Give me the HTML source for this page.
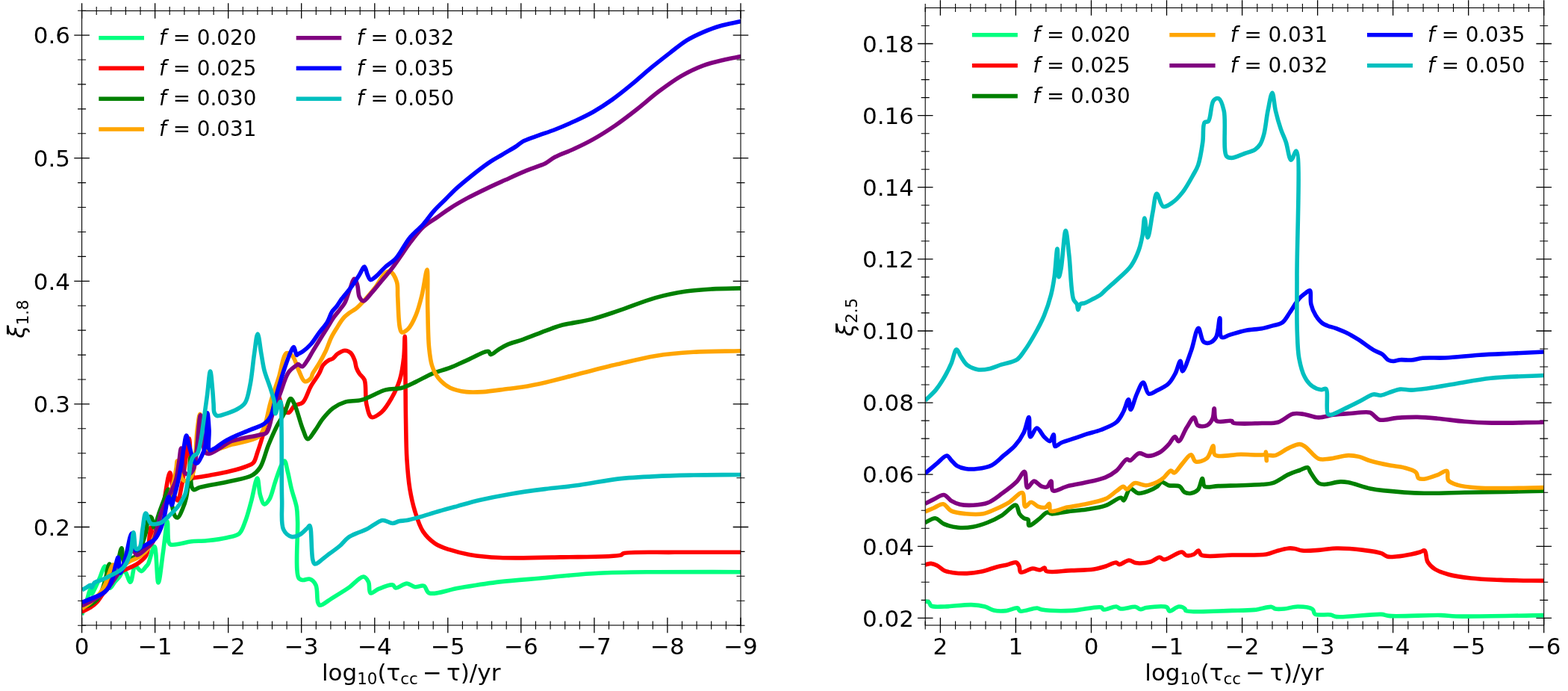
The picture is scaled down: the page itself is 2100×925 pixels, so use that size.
<!DOCTYPE html>
<html><head><meta charset="utf-8"><title>xi compactness plot</title>
<style>html,body{margin:0;padding:0;background:#fff;}svg{display:block;}</style>
</head><body>
<svg width="2100" height="925" viewBox="0 0 2100 925">
<defs><clipPath id="cl"><rect x="109.6" y="14.5" width="882.4" height="822.5"/></clipPath>
<clipPath id="cr"><rect x="1239.2" y="10.5" width="828.5" height="826.5"/></clipPath></defs>
<rect width="2100" height="925" fill="#fff"/>
<path d="M109.6 826.7L109.6 847.3M109.6 4.2L109.6 24.8M207.6 826.7L207.6 847.3M207.6 4.2L207.6 24.8M305.7 826.7L305.7 847.3M305.7 4.2L305.7 24.8M403.7 826.7L403.7 847.3M403.7 4.2L403.7 24.8M501.8 826.7L501.8 847.3M501.8 4.2L501.8 24.8M599.8 826.7L599.8 847.3M599.8 4.2L599.8 24.8M697.8 826.7L697.8 847.3M697.8 4.2L697.8 24.8M795.9 826.7L795.9 847.3M795.9 4.2L795.9 24.8M893.9 826.7L893.9 847.3M893.9 4.2L893.9 24.8M992 826.7L992 847.3M992 4.2L992 24.8M99.3 705.5L119.9 705.5M981.7 705.5L1002.3 705.5M99.3 540.9L119.9 540.9M981.7 540.9L1002.3 540.9M99.3 376.3L119.9 376.3M981.7 376.3L1002.3 376.3M99.3 211.7L119.9 211.7M981.7 211.7L1002.3 211.7M99.3 47.1L119.9 47.1M981.7 47.1L1002.3 47.1" stroke="#000" stroke-width="1.3" fill="none"/>
<path d="M129.2 831.5L129.2 842.5M129.2 9L129.2 20M148.8 831.5L148.8 842.5M148.8 9L148.8 20M168.4 831.5L168.4 842.5M168.4 9L168.4 20M188 831.5L188 842.5M188 9L188 20M227.2 831.5L227.2 842.5M227.2 9L227.2 20M246.9 831.5L246.9 842.5M246.9 9L246.9 20M266.5 831.5L266.5 842.5M266.5 9L266.5 20M286.1 831.5L286.1 842.5M286.1 9L286.1 20M325.3 831.5L325.3 842.5M325.3 9L325.3 20M344.9 831.5L344.9 842.5M344.9 9L344.9 20M364.5 831.5L364.5 842.5M364.5 9L364.5 20M384.1 831.5L384.1 842.5M384.1 9L384.1 20M423.3 831.5L423.3 842.5M423.3 9L423.3 20M442.9 831.5L442.9 842.5M442.9 9L442.9 20M462.5 831.5L462.5 842.5M462.5 9L462.5 20M482.2 831.5L482.2 842.5M482.2 9L482.2 20M521.4 831.5L521.4 842.5M521.4 9L521.4 20M541 831.5L541 842.5M541 9L541 20M560.6 831.5L560.6 842.5M560.6 9L560.6 20M580.2 831.5L580.2 842.5M580.2 9L580.2 20M619.4 831.5L619.4 842.5M619.4 9L619.4 20M639 831.5L639 842.5M639 9L639 20M658.6 831.5L658.6 842.5M658.6 9L658.6 20M678.2 831.5L678.2 842.5M678.2 9L678.2 20M717.4 831.5L717.4 842.5M717.4 9L717.4 20M737.1 831.5L737.1 842.5M737.1 9L737.1 20M756.7 831.5L756.7 842.5M756.7 9L756.7 20M776.3 831.5L776.3 842.5M776.3 9L776.3 20M815.5 831.5L815.5 842.5M815.5 9L815.5 20M835.1 831.5L835.1 842.5M835.1 9L835.1 20M854.7 831.5L854.7 842.5M854.7 9L854.7 20M874.3 831.5L874.3 842.5M874.3 9L874.3 20M913.5 831.5L913.5 842.5M913.5 9L913.5 20M933.1 831.5L933.1 842.5M933.1 9L933.1 20M952.7 831.5L952.7 842.5M952.7 9L952.7 20M972.4 831.5L972.4 842.5M972.4 9L972.4 20M104.1 837.2L115.1 837.2M986.5 837.2L997.5 837.2M104.1 804.3L115.1 804.3M986.5 804.3L997.5 804.3M104.1 771.3L115.1 771.3M986.5 771.3L997.5 771.3M104.1 738.4L115.1 738.4M986.5 738.4L997.5 738.4M104.1 672.6L115.1 672.6M986.5 672.6L997.5 672.6M104.1 639.7L115.1 639.7M986.5 639.7L997.5 639.7M104.1 606.7L115.1 606.7M986.5 606.7L997.5 606.7M104.1 573.8L115.1 573.8M986.5 573.8L997.5 573.8M104.1 508L115.1 508M986.5 508L997.5 508M104.1 475.1L115.1 475.1M986.5 475.1L997.5 475.1M104.1 442.1L115.1 442.1M986.5 442.1L997.5 442.1M104.1 409.2L115.1 409.2M986.5 409.2L997.5 409.2M104.1 343.4L115.1 343.4M986.5 343.4L997.5 343.4M104.1 310.5L115.1 310.5M986.5 310.5L997.5 310.5M104.1 277.5L115.1 277.5M986.5 277.5L997.5 277.5M104.1 244.6L115.1 244.6M986.5 244.6L997.5 244.6M104.1 178.8L115.1 178.8M986.5 178.8L997.5 178.8M104.1 145.9L115.1 145.9M986.5 145.9L997.5 145.9M104.1 112.9L115.1 112.9M986.5 112.9L997.5 112.9M104.1 80L115.1 80M986.5 80L997.5 80M104.1 14.2L115.1 14.2M986.5 14.2L997.5 14.2" stroke="#000" stroke-width="1.1" fill="none"/>
<path d="M1259.4 826.7L1259.4 847.3M1259.4 0.2L1259.4 20.8M1360.4 826.7L1360.4 847.3M1360.4 0.2L1360.4 20.8M1461.5 826.7L1461.5 847.3M1461.5 0.2L1461.5 20.8M1562.5 826.7L1562.5 847.3M1562.5 0.2L1562.5 20.8M1663.6 826.7L1663.6 847.3M1663.6 0.2L1663.6 20.8M1764.6 826.7L1764.6 847.3M1764.6 0.2L1764.6 20.8M1865.6 826.7L1865.6 847.3M1865.6 0.2L1865.6 20.8M1966.7 826.7L1966.7 847.3M1966.7 0.2L1966.7 20.8M2067.7 826.7L2067.7 847.3M2067.7 0.2L2067.7 20.8M1228.9 827.4L1249.5 827.4M2057.4 827.4L2078 827.4M1228.9 731.3L1249.5 731.3M2057.4 731.3L2078 731.3M1228.9 635.2L1249.5 635.2M2057.4 635.2L2078 635.2M1228.9 539.1L1249.5 539.1M2057.4 539.1L2078 539.1M1228.9 443L1249.5 443M2057.4 443L2078 443M1228.9 346.9L1249.5 346.9M2057.4 346.9L2078 346.9M1228.9 250.7L1249.5 250.7M2057.4 250.7L2078 250.7M1228.9 154.6L1249.5 154.6M2057.4 154.6L2078 154.6M1228.9 58.5L1249.5 58.5M2057.4 58.5L2078 58.5" stroke="#000" stroke-width="1.3" fill="none"/>
<path d="M1239.2 831.5L1239.2 842.5M1239.2 5L1239.2 16M1279.6 831.5L1279.6 842.5M1279.6 5L1279.6 16M1299.8 831.5L1299.8 842.5M1299.8 5L1299.8 16M1320 831.5L1320 842.5M1320 5L1320 16M1340.2 831.5L1340.2 842.5M1340.2 5L1340.2 16M1380.6 831.5L1380.6 842.5M1380.6 5L1380.6 16M1400.9 831.5L1400.9 842.5M1400.9 5L1400.9 16M1421.1 831.5L1421.1 842.5M1421.1 5L1421.1 16M1441.3 831.5L1441.3 842.5M1441.3 5L1441.3 16M1481.7 831.5L1481.7 842.5M1481.7 5L1481.7 16M1501.9 831.5L1501.9 842.5M1501.9 5L1501.9 16M1522.1 831.5L1522.1 842.5M1522.1 5L1522.1 16M1542.3 831.5L1542.3 842.5M1542.3 5L1542.3 16M1582.7 831.5L1582.7 842.5M1582.7 5L1582.7 16M1602.9 831.5L1602.9 842.5M1602.9 5L1602.9 16M1623.1 831.5L1623.1 842.5M1623.1 5L1623.1 16M1643.4 831.5L1643.4 842.5M1643.4 5L1643.4 16M1683.8 831.5L1683.8 842.5M1683.8 5L1683.8 16M1704 831.5L1704 842.5M1704 5L1704 16M1724.2 831.5L1724.2 842.5M1724.2 5L1724.2 16M1744.4 831.5L1744.4 842.5M1744.4 5L1744.4 16M1784.8 831.5L1784.8 842.5M1784.8 5L1784.8 16M1805 831.5L1805 842.5M1805 5L1805 16M1825.2 831.5L1825.2 842.5M1825.2 5L1825.2 16M1845.4 831.5L1845.4 842.5M1845.4 5L1845.4 16M1885.8 831.5L1885.8 842.5M1885.8 5L1885.8 16M1906.1 831.5L1906.1 842.5M1906.1 5L1906.1 16M1926.3 831.5L1926.3 842.5M1926.3 5L1926.3 16M1946.5 831.5L1946.5 842.5M1946.5 5L1946.5 16M1986.9 831.5L1986.9 842.5M1986.9 5L1986.9 16M2007.1 831.5L2007.1 842.5M2007.1 5L2007.1 16M2027.3 831.5L2027.3 842.5M2027.3 5L2027.3 16M2047.5 831.5L2047.5 842.5M2047.5 5L2047.5 16M1233.7 803.4L1244.7 803.4M2062.2 803.4L2073.2 803.4M1233.7 779.3L1244.7 779.3M2062.2 779.3L2073.2 779.3M1233.7 755.3L1244.7 755.3M2062.2 755.3L2073.2 755.3M1233.7 707.3L1244.7 707.3M2062.2 707.3L2073.2 707.3M1233.7 683.2L1244.7 683.2M2062.2 683.2L2073.2 683.2M1233.7 659.2L1244.7 659.2M2062.2 659.2L2073.2 659.2M1233.7 611.2L1244.7 611.2M2062.2 611.2L2073.2 611.2M1233.7 587.1L1244.7 587.1M2062.2 587.1L2073.2 587.1M1233.7 563.1L1244.7 563.1M2062.2 563.1L2073.2 563.1M1233.7 515L1244.7 515M2062.2 515L2073.2 515M1233.7 491L1244.7 491M2062.2 491L2073.2 491M1233.7 467L1244.7 467M2062.2 467L2073.2 467M1233.7 418.9L1244.7 418.9M2062.2 418.9L2073.2 418.9M1233.7 394.9L1244.7 394.9M2062.2 394.9L2073.2 394.9M1233.7 370.9L1244.7 370.9M2062.2 370.9L2073.2 370.9M1233.7 322.8L1244.7 322.8M2062.2 322.8L2073.2 322.8M1233.7 298.8L1244.7 298.8M2062.2 298.8L2073.2 298.8M1233.7 274.8L1244.7 274.8M2062.2 274.8L2073.2 274.8M1233.7 226.7L1244.7 226.7M2062.2 226.7L2073.2 226.7M1233.7 202.7L1244.7 202.7M2062.2 202.7L2073.2 202.7M1233.7 178.7L1244.7 178.7M2062.2 178.7L2073.2 178.7M1233.7 130.6L1244.7 130.6M2062.2 130.6L2073.2 130.6M1233.7 106.6L1244.7 106.6M2062.2 106.6L2073.2 106.6M1233.7 82.5L1244.7 82.5M2062.2 82.5L2073.2 82.5M1233.7 34.5L1244.7 34.5M2062.2 34.5L2073.2 34.5" stroke="#000" stroke-width="1.1" fill="none"/>
<path d="M109.5 823C111.3 818 113.2 813.3 115 808C117.1 802.1 119.8 789 121.2 789C122 789 122.2 794.9 123 795C123.8 795.1 124.9 792.2 126 790C127.9 786.4 130.6 780.2 133 775C135.5 769.5 138.5 757.8 140.7 758C143.5 758.3 144.1 786.6 147.2 787.3C149 787.7 151.4 781.8 153.6 779.2C155.7 776.7 158.1 774.5 160 772C161.9 769.5 163.4 764.3 165.1 764C166.1 763.8 167.1 765 168.2 766.2C170.3 768.6 172.7 779.4 174.7 779.2C177.1 779 178 759.1 181.2 758.1C183.4 757.4 186.8 764.7 189.3 764.6C191.6 764.5 194.2 759.9 195.8 758.1C196.9 756.9 197.5 756.6 198.4 755C200.7 750.9 204.7 731.2 206.8 731.5C209.8 731.9 210 779.9 212 780C213.9 780 216.5 752.3 218.5 738.6C220.5 725 222.9 698.1 224.2 698.1C225.2 698.1 224.3 721.6 226 726C226.6 727.6 226.9 728.3 228.2 728.9C230.7 730 237.4 728.5 241.9 727.8C246.3 727.1 250 725.6 255 724.9C261.4 724 269.3 724.6 277 723.8C285.6 722.9 296.3 721.6 304.1 719.7C310.3 718.2 316.3 717.8 320.3 714.3C324.5 710.7 325.9 704.3 328.4 698.1C331.5 690.4 333.9 680.4 336.5 671.1C339.3 661.1 342.5 639.9 344.6 640C346.4 640.1 346.6 656.7 348.6 663C350.1 667.8 351.8 674.7 354.1 675.1C356 675.4 358.8 671.7 360.8 668.4C364.1 663.1 366.1 651.9 368.9 644.1C371.5 636.6 374.4 627.1 377 622.4C378.4 619.9 379.9 616.8 381.1 617C382.8 617.3 383.8 625.3 385.1 630.5C386.9 637.4 388.5 646.8 390.5 654.9C392.5 663 396 671.5 397.3 679.2C398.4 685.8 398.2 689.7 398.6 698.1C399.3 714.9 394.9 765.8 400 773.8C401.4 776.1 403.3 776.2 405.4 776.5C408.1 776.9 412.1 774.2 414.9 775.1C418 776.1 421.2 779.4 423 783.2C425.6 788.6 424.1 801.8 425.7 806.2C426.4 808.2 426.9 809.9 428.4 810.3C431.4 811 438.8 804.3 444.6 800.8C451.3 796.7 459.2 792.1 466.2 787.3C473.3 782.5 482.2 771.5 487 772C489.9 772.3 492 775.9 493.5 779C495.4 782.9 493.6 792.7 496.2 794C498.5 795.1 502.8 790.1 507 788.4C512.3 786.3 522 782 525.9 783C528 783.5 528 786.6 530 787C533.3 787.7 540.3 781 544.9 781.1C548.8 781.1 551.9 785.2 555.7 785.7C559.5 786.3 564.6 782.9 567.8 784.3C570.9 785.7 570.6 792.2 574.6 793.8C582.1 796.9 600.6 789.3 615.1 787C631.8 784.3 650.6 781.1 669.2 778.9C688.8 776.6 715 775 730 773.5C738.8 772.6 742.3 772.1 750.8 771.3C764 770.1 783 768.1 801.7 767.2C824.5 766.1 849.9 766 877.9 765.7C912.3 765.4 954.6 765.7 993 765.7" stroke="#00ff7f" stroke-width="5.6" fill="none" stroke-linejoin="round" stroke-linecap="butt" clip-path="url(#cl)"/>
<path d="M109.5 818.9C113.4 817 117.8 815.4 121.2 813.2C124.3 811.3 126.8 809.4 129.3 806.7C132.2 803.6 134.8 799.3 137.4 795.4C140.2 791.3 142.7 786.5 145.5 782.4C148.1 778.5 150.3 774.2 153.6 771.1C156.8 768 161 765.9 165 763.8C169.1 761.6 174.2 760.1 178 758.1C181.1 756.5 183.4 755.3 186.1 753.2C189.3 750.7 193.4 748.1 195.8 743.5C199.3 736.7 199.6 721.1 200.7 714.3C201.3 710.7 201.5 706 202 706C202.7 706 203.2 721.9 204.5 722C205.8 722.1 208.2 710.9 210 705C212 698.6 214.3 690.8 216 685C217.3 680.6 218 678.5 219.2 673.4C221.5 664 225.1 632.6 227.5 632.6C229.6 632.6 230.4 655.4 233 662C234.4 665.7 236.5 670.2 238 670C240.2 669.7 241.8 657.4 243.4 650C245.3 641.1 246.4 630.2 248 620C249.7 609.3 251.9 586.9 253.2 587C254.6 587.1 254.8 615.2 256 625C256.7 631.2 259.1 639.3 258.5 640C258.4 640.1 258.1 640 258.1 640C258.1 639.9 273.1 637.6 281 636.2C289.7 634.6 299.5 633 308.1 630.8C316.1 628.8 325.5 626.1 331.1 623.8C334.6 622.4 337 622.1 339.2 619.7C342.1 616.6 343.1 610.3 345 605C347.2 598.9 349.2 592.4 351.4 585C354 576.1 356.6 564.2 359.5 555.1C362 547.3 364.4 537.1 367.6 533.5C369.3 531.7 371.5 530.2 373 530.8C375.6 531.9 375.6 543.3 378.4 547C380.5 549.8 383.9 552.7 386.5 552.4C389.4 552 391.4 545.3 394.6 543C397.7 540.8 402.3 541.7 405.4 538.9C409.9 534.8 412.4 524 416.2 517.3C419.7 511.1 424.5 505.3 427.4 500C429.7 495.9 430.4 491.7 432.8 488.6C434.9 485.9 438 483.7 440.4 482.2C442.3 481.1 444 481.2 445.8 480C448 478.5 449.7 475.3 452.3 473.5C455.1 471.6 459 469.2 462 469.2C464.7 469.2 467.5 470.5 469.6 472.4C472 474.6 473.7 478.8 475 482.2C476.2 485.4 476.2 489.1 477.3 492.2C478.4 495.1 479.7 497.7 481.4 500.3C483.2 503.1 486.5 504.5 488.1 508.4C490.9 515.3 488.7 531.8 490.8 540.8C492.4 547.7 493.9 557 497.6 558.4C500.9 559.7 507 555.1 511.1 551.6C516.2 547.2 520.6 539.6 524.6 532.7C528.8 525.3 532.7 517.1 535.4 508.4C538.3 499.1 539.7 488.4 540.8 478.6C541.9 469.1 541.8 450.3 542.2 450.3C543 450.3 542.9 529.8 543.5 560C543.9 581.2 543.9 597.4 544.9 614.1C545.8 628.6 546.9 642.2 548.9 654.6C550.7 665.3 552.7 674.7 555.7 684.3C558.6 693.7 561.6 703.9 566.5 711.4C570.9 718 576.7 723.5 582.7 727.6C588.4 731.5 594.6 733.4 601.6 735.7C609.7 738.4 618.6 740.7 628.6 742.4C640.7 744.5 653.3 745.8 669.2 746.5C691.7 747.5 723.6 746.5 750.8 745.9C778 745.3 824.2 745.8 832.2 742.8C833.8 742.2 833.1 741.4 834.7 740.8C841.9 738.2 879 739.6 903.4 739.3C931.3 739 963.1 739.3 993 739.3" stroke="#ff0000" stroke-width="5.6" fill="none" stroke-linejoin="round" stroke-linecap="butt" clip-path="url(#cl)"/>
<path d="M109.5 813C113 812 116.6 811.8 120 810C124.1 807.8 128.8 804.4 132 800C135.8 794.8 137.6 787.1 140 780C142.6 772.2 144.6 755.1 146.6 755.1C148.2 755.1 149.3 769.8 151 770C152.5 770.1 154.4 764.2 156 760C158.5 753.4 161.2 733.7 162.9 733.8C164.3 733.9 163.2 750.5 166 752C168.1 753.1 172 749.6 175 748C178.3 746.3 182.5 744.9 185 742C187.6 739 188.4 734.4 190 730C191.9 724.8 193.8 718.7 195.4 712.6C197.1 706.1 197.2 693.5 199.6 692C200.6 691.4 202.1 691.9 203 692.9C204.8 694.8 204.6 705.9 206 706C207.8 706.1 211.1 692 213.5 685.4C215.7 679.4 217.9 673.4 220 668C221.9 663.3 223.9 654.9 225.5 655C227.4 655.2 228.4 668.7 230 675C231.5 680.8 232.5 688.9 234.7 691.4C235.7 692.6 237 693.3 238.2 692.9C240.5 692.1 243.1 684.4 245 680C246.8 675.8 248 672.3 249.2 667.2C250.9 659.9 252 649.1 253 640C254 630.8 254.5 612 255.1 612C255.8 612 254.5 644.6 256.6 651.1C257.4 653.5 258.1 655.1 259.6 655.6C261.5 656.2 263.8 653.5 267.6 652.4C275.8 650 295.7 647.2 308.1 644.3C318.8 641.8 330.7 640.3 337.8 636.2C342.8 633.3 345.4 630.3 348.6 625.4C353.1 618.3 355.7 605 359.5 595.7C363 587.1 366.5 578.9 370.3 571.4C373.7 564.6 377.9 558.8 381.1 552.4C384.2 546.2 386.5 533.7 389.2 533.5C391 533.3 392.8 537.8 394.6 541.6C398.1 548.7 401.9 565.7 405.4 574.1C407.7 579.7 409.5 587.3 412.2 587.6C414.9 587.9 418.5 580.9 421.6 576.8C425.2 572 428.3 565.6 432.4 560.5C436.5 555.4 441.1 550 446.2 546.2C451.1 542.6 456.4 539.9 462.4 538.1C469 536.1 476.3 537.5 484.1 535.4C494 532.8 506.6 524.5 516.5 521.9C524.3 519.8 531.3 521.1 538.1 519.2C544.7 517.4 550.5 514.1 557 511.1C564 507.9 571.1 503.4 578.6 500.3C586.4 497.1 595.2 495.2 603 492.2C610.5 489.3 616.8 486 624.6 482.7C633.7 478.8 649.9 469.1 654.3 470.5C656 471 655.6 474.3 657 474.6C659.3 475.1 664.1 470 667.8 467.8C671.7 465.5 675.3 463.1 680 461.1C685.7 458.6 692.7 457.2 700 454.6C709.1 451.4 721.3 446.3 730.5 442.9C737.9 440.2 742.8 437.9 750.8 435.7C761.9 432.6 778.5 430.9 791.5 427.6C803.9 424.4 814.2 420.7 827.1 416.4C842.6 411.3 861.8 403.1 877.9 398.6C892.1 394.6 905.4 392 918.6 390C930.8 388.2 942.1 387.6 954.2 386.9C966.8 386.2 980.1 386.2 993 385.9" stroke="#008000" stroke-width="5.6" fill="none" stroke-linejoin="round" stroke-linecap="butt" clip-path="url(#cl)"/>
<path d="M109.5 814.6C112.3 812.7 115.3 811.1 118 809C120.8 806.9 123.4 804.5 126 802C128.7 799.5 131.6 797.1 134 794C136.7 790.5 138.9 786.5 141 782C143.4 776.9 145 769.7 147 765C148.5 761.5 149.7 756.2 151.5 756C153.1 755.8 154.9 761.7 157 762C159.3 762.3 162.4 758.7 165 757C167.6 755.3 169.6 753.8 172.7 752C176.8 749.6 183.3 747.7 187.8 744.4C192.4 741.1 196.5 737.2 199.9 732.3C203.8 726.7 206.2 719 209 712C211.9 704.9 214.3 697.3 217 690C219.8 682.7 222.9 675.5 225.5 668C228.1 660.5 230.7 652.2 232.5 645C234.1 638.7 235.1 632.1 236 627C236.7 623.2 236.6 617.1 237.5 617C238.9 616.9 241 638.6 244.5 642C246.2 643.7 248.6 644.1 250.5 643.5C253.2 642.6 256.1 639.2 258.1 634.4C262.6 623.6 262.2 590.1 264.2 575.4C265.4 566.5 266.6 554.2 267.9 554.2C269.8 554.2 269.4 593.4 274 600C275.9 602.8 277.8 603.5 281 603.8C287 604.4 298.3 598.6 308.1 595.7C319.7 592.3 338.5 590.7 346 584.9C350.7 581.3 351.7 577.1 354 571.4C357.4 563.1 359.1 549.7 362.2 538.9C365.4 528 369.4 517.4 373 506.5C376.6 495.4 379 474.7 383.8 472.7C386.2 471.7 389.6 474.3 391.9 476.8C395.4 480.6 397.2 489.8 400 495.7C402.6 501 404.8 509.5 408.1 510.5C410.5 511.3 414.4 508.4 416.2 506.5C417.8 504.8 417.5 502.5 418.8 500C420.7 496.2 424.6 491.3 427.4 486.5C430.4 481.4 433.4 475.9 436.1 470.3C438.9 464.4 440.9 457.4 443.6 451.9C446 447.1 448.5 443.2 451.2 438.9C453.9 434.5 456.8 429.5 459.9 425.9C462.6 422.8 465.7 420.5 468.5 418.4C471 416.6 473.2 415.9 475.9 413.8C479.9 410.6 485.1 405.1 489.5 400.3C494.1 395.2 498.6 389.8 503 384.1C507.6 378.1 512.2 367.8 516.5 365.1C518.8 363.6 521.1 362.9 523.2 363.8C526.3 365.2 529.8 372.1 531.4 377.3C533.3 383.2 532.2 389.7 532.7 397.6C533.4 408.8 533.6 430.3 535.4 438.1C536.1 441.4 536.5 444.3 538.1 444.9C539.9 445.6 543.6 443.2 546.2 440.8C550.2 437 554 429 557 421.9C560.4 413.9 562.7 404.5 565.1 394.9C567.7 384.3 570.6 361 571.9 361.1C573.5 361.2 572.3 394.1 572.7 411.1C573.2 428.8 573.2 450.7 574.6 465.1C575.6 474.9 576.3 482.4 578.6 489.5C580.6 495.6 583 500.9 586.8 505.7C590.9 510.9 596.8 516.1 603 519.2C609.4 522.4 617.3 523.7 624.6 524.6C631.7 525.5 638.2 525.1 646.2 524.6C656.2 524 670.2 521.7 680 520.5C687.5 519.6 692.7 519.3 700 518.1C709.1 516.6 719.3 514.5 730.5 512C744.3 508.9 760.6 504.3 776.3 500.3C792.8 496.1 810.1 491.6 827.1 487.6C844 483.6 860.9 479.1 877.9 476.4C894.8 473.7 910.8 472.4 928.8 471.3C948.9 470.1 971.6 470.3 993 469.8" stroke="#ffa500" stroke-width="5.6" fill="none" stroke-linejoin="round" stroke-linecap="butt" clip-path="url(#cl)"/>
<path d="M109.5 810.8C114.7 808.2 120 805.9 125 803C130.1 800 135.8 797 140 793C144 789.2 146.7 784.5 150 780C153.4 775.2 156.7 770 160 765C163.3 760 167.2 754.8 170 750C172.4 745.9 174.1 739.9 176 738C176.9 737.1 177.8 736.6 178.7 736.8C180.2 737.2 181.2 742.5 183.3 742.9C186.2 743.4 191.4 738 195 735C198.6 732 202.4 729.5 205 725C208.6 718.9 210 707.1 212 700C213.5 694.7 214.1 691.1 216 686C218.4 679.4 222.7 671.2 226 664C229.2 657 233.1 650.5 235.3 643.3C237.6 635.9 238.2 627.5 239.5 620C240.7 613.1 241.5 600 242.6 600C244.1 600 243.7 628.8 247.5 632.9C249.1 634.7 251.8 635 253.6 634.4C255.9 633.6 257.8 631.1 259.6 626.9C264.4 615.5 266 555.7 268.7 555.7C270.9 555.7 269.9 600.3 274.7 605.7C276.4 607.6 278.1 607.6 280.8 607.2C287 606.3 302.3 593.6 310 590.5C314.6 588.7 317 588.7 321.6 587.6C328.5 586 340.8 583.8 347.3 582.2C351.3 581.2 354.2 582 356.8 579.5C361 575.5 361.9 563.6 364.9 555.1C368.2 545.7 372 535 375.7 525.4C379.2 516.2 382 504.8 386.5 498.4C389.7 493.9 395.1 490.6 397.3 488.9C398.2 488.2 398.5 487.6 399.3 487.6C400.7 487.6 402.9 491.1 404.7 490.8C406.9 490.4 409.1 486.2 411.2 483.2C413.8 479.6 416.2 474.7 418.8 470.3C421.6 465.7 424.4 461.1 427.4 456.2C430.8 450.7 434.8 444.4 438.2 438.9C441.3 434 443.9 429.2 446.9 424.9C449.7 421 452.9 417.6 455.5 414.1C457.9 411 460.1 408.6 462 405C464.3 400.6 465.7 394.7 467.8 389.5C469.9 384.1 472.6 373.3 474.6 373.2C476.1 373.2 477.5 378.1 478.6 381.4C480 385.8 479.5 393.8 481.4 397.6C482.7 400.2 484.7 403 486.8 403C489.8 403 493.9 396.3 497.6 392.2C502 387.4 506.6 381.4 511.1 376C515.6 370.6 520.2 365.4 524.6 359.7C529.2 353.7 533.9 346.7 538.1 340.8C541.8 335.6 544.3 331.4 548.4 326.1C553.5 319.4 560.3 310 566.8 304C572.6 298.7 579 295.4 585.1 291.1C591.2 286.8 597 282.4 603.5 278.3C610.4 273.9 617.9 269.6 625.6 265.4C633.8 261 642.7 256.7 651.3 252.6C659.8 248.5 668.4 244.7 677 240.8C685.6 236.9 694.8 232.6 702.7 229.4C709.3 226.7 716 224.4 721.1 222.4C724.7 221 727.1 220.4 730.3 218.7C734.3 216.6 738 213.1 743.2 210.3C750.2 206.6 760.4 203.3 768.9 199.3C777.5 195.3 785.9 191.3 794.6 186.4C804.2 181 814.3 174.6 824 168C833.9 161.2 843.7 153.6 853.4 146C863.3 138.3 872.8 129.5 882.8 122.1C892.5 114.9 902.2 107.7 912.2 101.9C921.8 96.4 931.6 91.6 941.6 87.9C951.2 84.3 961.9 82 971 79.8C978.8 77.9 985.7 76.9 993 75.4" stroke="#800080" stroke-width="5.6" fill="none" stroke-linejoin="round" stroke-linecap="butt" clip-path="url(#cl)"/>
<path d="M109.9 806.5C113.7 804.9 117.5 803.2 121.2 801.6C124.8 800.1 128.7 799 132 797.3C135.1 795.7 138.3 794 140.7 791.9C142.9 790 144.5 787.9 146.1 785.4C147.8 782.6 149.1 779.5 150.4 775.7C152.1 770.6 153.2 762.7 154.7 757.3C155.9 753.1 157.3 745.9 158.3 746C159.6 746.1 159.7 767 161.3 767.1C163 767.2 165.9 753.7 168.2 745.9C171 736.4 174.1 714.1 176.5 714.1C178.5 714.1 178.8 735.4 181.8 736.8C183.4 737.6 185.5 735 187.8 733.8C190.9 732.2 195 729.8 198.4 727.7C201.6 725.7 204.9 724.5 207.5 721.7C210.6 718.3 213 712.9 215 708.1C217.1 703.3 218.2 698.8 219.8 692.9C221.9 685 223.9 665.1 226 665C227.3 664.9 228.8 676 230 676C231.2 676 232 669 233.1 665C234.5 660.1 236.1 654.8 237.5 648.7C239.3 640.8 241.4 630.1 242.9 621.6C244.2 614 244.9 606.8 246.1 600C247.2 594 248.3 583 249.6 583C250.8 583 251.9 592.7 253.6 598.1C255.6 604.6 258.4 616.9 261.1 619.3C262.1 620.2 263.2 620.4 264.2 620C266.2 619.2 268.5 613.7 270.2 610.2C272 606.5 273.5 603.5 274.7 598.1C276.9 587.9 276.8 552.7 277.8 552.7C278.5 552.7 279.5 567.5 280 575.4C280.5 584 277.7 600.6 280.8 602.6C282.5 603.7 285.8 601 288.4 599.6C291.7 597.8 295.4 594.3 299 592C302.6 589.8 305.5 588.2 310 586C316.6 582.8 327.3 578.7 335.1 575.4C341.9 572.5 349.3 570.8 354 567.3C357.7 564.6 359.9 562.2 362.2 557.8C365.9 550.9 367.3 538.4 370.3 528.1C373.6 516.9 377.6 503.2 381.1 493C383.9 484.9 386.8 476.5 389.2 471.4C390.6 468.4 392 464.5 393.2 464.6C394.7 464.7 396.3 475.1 397.3 475.4C397.6 475.5 397.7 474.9 398.2 474.6C399.5 473.7 403.2 472.2 405.8 470.3C409.2 467.8 413.2 464.3 416.6 460.5C420.4 456.2 423.8 450.3 427.4 445.4C431 440.6 435.3 436.2 438.2 431.4C441 426.9 442.2 421.1 444.7 417.3C446.7 414.2 449.1 412.5 451.2 409.7C453.5 406.7 455.1 403.6 457.7 400C461.2 395.3 466.5 389.5 470.5 384.1C474.4 378.8 478.2 372.7 481.4 367.8C483.9 363.9 486.3 356.8 488.1 357C489.8 357.2 490.7 364.7 492.2 367.8C493.4 370.4 494.4 374.1 496.2 374.6C498 375.1 500.5 372.5 503 370.5C506.9 367.4 511.9 361.1 516.5 357C520.9 353.1 525.5 351.1 530 346.2C536.2 339.5 541.9 326.7 548.4 318.7C554.2 311.6 561.2 306.6 566.8 300.3C572.2 294.3 576.4 287.6 581.5 282C586.3 276.7 591.3 272.2 596.2 267.3C601.1 262.4 605.4 257.6 610.9 252.6C617.4 246.7 625.5 240.1 632.9 234.2C640.2 228.4 647.9 222.4 655 217.6C661.3 213.4 667.2 210.3 673.3 206.6C679.4 202.9 687 198.7 691.7 195.6C694.8 193.5 695.9 191.9 699.1 190.1C703.7 187.5 710.7 185.2 717.4 182.7C725.2 179.7 734.7 176.8 743.2 173.5C751.8 170.1 760.4 166.4 768.9 162.5C777.5 158.5 786.2 154.5 794.6 149.7C803.3 144.7 811.9 139.1 820.3 133.1C829 126.9 837.6 119.9 846.1 112.9C854.8 105.8 863.2 98 871.8 90.9C880.3 83.9 889.2 77 897.5 70.6C905.1 64.8 912 58.8 919.6 54.1C926.8 49.7 934.2 46.3 941.6 43.1C948.9 40 955.7 37.3 963.7 35C972.7 32.3 983.2 30.6 993 28.4" stroke="#0000ff" stroke-width="5.6" fill="none" stroke-linejoin="round" stroke-linecap="butt" clip-path="url(#cl)"/>
<path d="M109.9 789.7C111.9 788.6 113.9 787.6 115.8 786.5C117.7 785.4 120 782.9 121.2 783.2C122.1 783.5 122.1 786.5 122.8 786.5C123.8 786.5 124.6 781.7 126.6 780C129.1 777.9 133.7 777.3 137.4 775.7C141.5 773.9 146.2 771.5 150 769.5C153.3 767.8 156.4 766.3 159.1 764.5C161.5 762.9 163.6 761.7 165.5 759.5C167.7 757 169.4 753.4 171 750C172.7 746.3 174.1 742.8 175.3 738C177 731.2 177.6 712.7 178.8 712.7C180 712.7 179.9 733.6 182.5 735C183.7 735.6 185.8 734.6 187 733C189.8 729.4 189.6 716 191 708C192.3 700.7 193.1 687.3 195.2 687C197 686.8 198.7 699 202.2 701C205.1 702.7 210.6 701.3 213.5 700.5C215.6 700 216.8 699.2 218.5 698C220.8 696.4 222.9 694 225.6 691.4C229.2 687.8 234.9 682.3 238.2 678.2C240.7 675.1 242.3 672.3 244 669.3C245.6 666.4 247.1 664.1 248.3 660.6C249.9 655.9 250.5 648.4 251.5 643.3C252.3 639.3 253.1 636.3 253.7 632.5C254.4 628.3 254.3 622.9 255.5 619C256.5 615.7 257.8 612.2 259.6 610.2C260.9 608.7 262.9 609 264.2 607.2C266.5 604.1 267.4 596.9 268.7 590.5C270.5 582 271.7 570.5 273.2 560.3C274.7 550 276.1 539.5 277.5 529C278.9 518.4 280.4 497 281.6 497C282.7 497 283.8 512.6 284.5 520C285.2 526.9 285.5 534.1 286 540C286.4 544.6 285.8 549.5 287 552.4C287.8 554.3 288.7 555.9 290.5 556.5C293.2 557.4 298.4 555.2 302.7 553.8C307.8 552.2 314.4 549.8 318.9 547C322.7 544.7 325.9 542.8 328.4 538.9C332 533.3 333.2 523.8 335.1 514.6C337.5 502.9 338.7 486.1 340.5 474C342 464.1 343.5 447 345.1 447C346.7 447 348.4 465.5 350 474C351.4 481.6 352.1 488.3 354 495.7C356.1 503.6 359.8 512.4 362.2 520C364.3 526.7 366.5 532.9 367.6 538.9C368.6 544.1 368 553.7 368.9 553.8C369.6 553.9 370.8 547.8 372 545C373.1 542.4 374.8 537.4 375.7 537.6C377.5 538 376.7 557.2 377 571.4C377.5 595.4 376.9 643.2 377.6 668.6C378.1 684.9 375.7 700.6 379.7 708.9C382.1 713.9 386.6 717.5 390.5 718.4C393.9 719.2 398 717.5 401.4 715.7C405.3 713.7 409.8 708.4 412.2 706.2C413.4 705.1 414.1 703.2 414.9 703.5C417.6 704.5 416.7 741.8 418.9 749.5C419.7 752.3 419.9 754.5 421.6 754.9C424.7 755.7 433.5 746.8 439.2 742.7C444.8 738.7 450.7 734.6 455.4 730.5C459.5 726.9 462.1 722.6 466.2 719.7C470.2 716.8 475.4 714.9 479.7 713C483.5 711.3 487.2 710.4 490.8 708.6C494.5 706.7 498 703.9 501.6 701.9C505.2 699.9 508.5 696.8 512.4 696.5C516.6 696.1 522 700.6 525.9 700.5C529 700.5 531.1 698.5 534.1 697.8C537.4 697.1 541 697.2 544.9 696.5C549.8 695.6 555 694.1 561.1 692.4C569 690.2 579.3 686.8 588.1 684.3C596.4 681.9 603.9 679.9 612.4 677.6C621.8 675 631.5 672 642.2 669.5C654.6 666.6 668.6 663.8 682.7 661.4C697.8 658.8 714.3 656.6 730 654.6C745.5 652.6 760.5 651.5 776.3 649.3C792.9 647 810.1 643.1 827.1 641.1C844 639.2 861 638.4 877.9 637.6C894.9 636.7 910.8 636.4 928.8 636C949 635.6 971.6 635.7 993 635.5" stroke="#00bfbf" stroke-width="5.6" fill="none" stroke-linejoin="round" stroke-linecap="butt" clip-path="url(#cl)"/>
<path d="M1239 805C1240.7 805.3 1242.7 805.1 1244 806C1245.4 807 1245.1 809.9 1247 811C1250.3 813 1258 812 1265 812C1274.9 811.9 1291.1 809.3 1301 809.6C1308 809.8 1313.7 810.6 1319 812C1323.5 813.2 1326.6 816 1331 817C1335.9 818.1 1341.7 818.1 1347 817.6C1352.4 817.1 1359.9 812.9 1363 814C1364.7 814.6 1364.2 817.3 1366 818C1369.9 819.5 1383.8 813.6 1389 814C1391.7 814.2 1392.1 815.5 1395 816C1402.4 817.3 1421.7 817.9 1435 817.4C1448.4 816.9 1469.4 811 1475 813C1476.8 813.6 1476.4 815.5 1478 816C1481.2 816.9 1490.8 811.5 1495 812C1497.6 812.3 1498.3 814.5 1501 815C1505.6 815.8 1516.4 811.6 1521 812.4C1523.7 812.9 1524.8 815.3 1527 815.6C1529.4 815.9 1531.5 814.1 1535 813.6C1541.5 812.7 1558.6 810.6 1563 813C1565 814.1 1564.3 817.5 1566 818C1568.6 818.8 1575.2 812.1 1579 812C1582 811.9 1585.7 813.7 1587 815C1587.7 815.7 1587 816.7 1588 817.4C1592.9 820.6 1633 817.7 1650 817.4C1661.8 817.2 1670.7 817.4 1680 816.4C1688.2 815.6 1698.2 811.7 1703 812.4C1705.4 812.8 1705.9 814.5 1708 815C1711.1 815.8 1715.6 815.4 1720 815C1725.4 814.6 1731.8 812 1738 812C1744.5 812 1754.5 812.9 1758 815.6C1760.1 817.2 1758.9 820.6 1761 822C1764.7 824.5 1776.7 822 1782 823C1785.3 823.6 1786 825.1 1790 825.6C1800.6 827 1838.4 821.6 1850 822.4C1854.8 822.7 1855.1 823.9 1860 824.4C1872.8 825.6 1913.8 823.1 1930 823.6C1938.7 823.9 1940.5 824.7 1950 825C1972.9 825.7 2028.7 824.1 2068 823.6" stroke="#00ff7f" stroke-width="5.6" fill="none" stroke-linejoin="round" stroke-linecap="butt" clip-path="url(#cr)"/>
<path d="M1239 756C1241.7 755.5 1244.4 754.2 1247 754.4C1249.7 754.6 1252.3 755.6 1255 757C1258.3 758.6 1261.5 762.4 1265 764C1268.2 765.4 1271.1 765.8 1275 766.4C1280.5 767.2 1288.3 767.8 1295 767.6C1301.7 767.4 1308.4 766.4 1315 765C1321.7 763.6 1328.9 760.6 1335 759C1340.1 757.7 1344.5 757 1349 756C1353.2 755 1358.2 752.1 1361 753C1363 753.7 1364 756 1365 758C1366.1 760.3 1365.1 764.9 1367 766C1369.8 767.5 1378.3 761.3 1383 761C1386.7 760.8 1390.1 763.4 1393 763C1395.3 762.7 1397.7 759.5 1399 760C1400.1 760.4 1399.3 763.4 1401 764.4C1405.4 767.2 1424 764 1435 763.6C1445.3 763.2 1456.6 763.3 1465 762C1471.2 761.1 1475.9 759.5 1481 758C1485.9 756.5 1491.8 752.6 1495 753C1496.8 753.2 1497.2 755.4 1499 755.6C1502 755.9 1508.1 750.1 1512 750C1515.3 750 1517.3 753 1521 753.6C1526.3 754.4 1535.3 753.6 1541 752C1545.7 750.7 1549.7 746 1553 746C1555.3 746 1556.3 748.9 1559 749C1564.3 749.2 1577.8 738.3 1583 739C1585.8 739.4 1586.6 743 1589 743.6C1591.8 744.3 1596.2 743.3 1599 742C1601.4 740.9 1603.3 736.8 1605 737C1606.6 737.2 1606.4 741.6 1609 743C1615.3 746.4 1635.9 743.2 1650 743C1664.9 742.8 1685.2 743.8 1696 742C1702.1 741 1705.1 738.9 1710 737.6C1715.1 736.2 1721.6 734.4 1726 734C1729.1 733.7 1731.2 734 1734 734.4C1737.2 734.9 1740 736.5 1744 737C1749.9 737.7 1758.5 736.9 1766 736.4C1773.8 735.9 1781.2 734.1 1790 734C1800.8 733.8 1815.2 735.1 1826 736.4C1834.8 737.5 1844.3 738.6 1850 740.6C1853.5 741.8 1855 744.2 1858 745C1861.5 745.9 1865.5 745.3 1870 745C1875.8 744.6 1884.2 743.2 1890 742C1894.5 741.1 1898.7 740 1902 739C1904.4 738.3 1906.4 736.2 1908 737C1910.4 738.3 1909.6 747.8 1912 752C1914.3 756 1917.8 759.3 1922 762C1926.9 765.2 1933.1 767.1 1940 769C1948.6 771.4 1959.2 772.8 1970 774C1982.3 775.4 1995.4 775.8 2010 776.4C2027.5 777.1 2048.7 777.1 2068 777.4" stroke="#ff0000" stroke-width="5.6" fill="none" stroke-linejoin="round" stroke-linecap="butt" clip-path="url(#cr)"/>
<path d="M1239 699.6C1243.5 697.6 1248.3 693.3 1252.5 693.7C1256.6 694.1 1259.6 699.4 1264.2 701.4C1269.7 703.8 1277.1 705.7 1283.6 706.3C1290 706.9 1296.7 706.4 1303.1 705.3C1309.6 704.2 1316.1 702 1322.5 699.5C1329.1 696.9 1335.7 693.6 1342 689.8C1348.4 685.9 1356.6 675.1 1360.5 676.2C1363.4 677 1363.3 684.7 1365.3 687.8C1367 690.3 1369.1 692.4 1371.2 693.7C1373 694.8 1375.8 694.2 1377 695.6C1378.3 697.2 1376.5 702.7 1378 703.4C1380 704.4 1386.6 698.5 1390.6 695.6C1394.7 692.7 1398.9 686.5 1402.3 685.9C1404.4 685.5 1405.5 687.6 1408.1 687.8C1413 688.2 1422 685.8 1429.5 684.9C1437.6 683.9 1446.5 683.3 1455 682C1463.5 680.7 1472.4 679.6 1480.3 676.9C1487.9 674.3 1497.5 665.6 1501.5 666.3C1503.3 666.6 1503.7 670.2 1505 670C1507.4 669.7 1510 655.2 1513.6 654.2C1516.6 653.4 1520.3 659.7 1524.2 660.3C1528.3 660.9 1533.5 658.8 1537.8 657.3C1542.1 655.8 1546.7 653.5 1549.9 651.2C1552.4 649.4 1553.5 645.6 1555.9 645.2C1558.5 644.8 1561.5 648.7 1565 649.7C1569.3 650.9 1576.5 649.2 1580.1 651.2C1583 652.8 1583.6 657.3 1586.2 658.8C1588.7 660.3 1592.3 660.8 1595.3 660.3C1598.4 659.8 1602 658.3 1604.4 655.7C1607.4 652.4 1608.8 640.5 1610.4 640.6C1611.7 640.7 1610.8 649.3 1613.4 651.2C1616.8 653.7 1623.8 650.9 1631.6 650.6C1645.5 650.1 1677.1 649.5 1690 648.5C1696.5 648 1699.3 648.4 1704.5 646.7C1711.2 644.5 1719.6 637.9 1726.2 634.9C1731.4 632.5 1736.2 631.1 1740.7 629.5C1744.6 628.1 1749.1 625 1751.5 625.9C1753.4 626.6 1753.5 629.7 1755.1 632.2C1757.7 636.1 1762.3 644.2 1766 646.7C1768.4 648.3 1770.1 648.4 1773.2 648.5C1778.5 648.7 1789 645.1 1795 644.9C1799.2 644.7 1801.4 645 1805.8 645.8C1813.2 647.1 1826.2 652.1 1834.8 653.9C1841.5 655.3 1845.2 655.8 1852.9 656.6C1866.1 658 1889.1 659.8 1907.2 660.2C1925.3 660.6 1943.3 659.6 1961.4 659.3C1979.5 659 1997.8 658.8 2015.7 658.4C2033.3 658.1 2050.6 657.6 2068 657.2" stroke="#008000" stroke-width="5.6" fill="none" stroke-linejoin="round" stroke-linecap="butt" clip-path="url(#cr)"/>
<path d="M1239 685C1242.9 683.3 1246.6 681.7 1250.6 680C1254.7 678.3 1259.3 674.2 1263.2 674.8C1267.1 675.4 1269.5 681.8 1273.9 683.9C1279.2 686.5 1286.6 687.1 1293.4 687.8C1300.8 688.5 1309.8 689 1316.7 687.8C1322.5 686.8 1326.9 684.4 1332.3 682C1338.5 679.3 1345.5 676 1351.7 672.3C1357.8 668.6 1365.7 658.2 1369.2 659.6C1372.5 660.9 1370.4 677.1 1373.1 678.1C1375 678.8 1378.1 672.4 1380.9 672.3C1383.9 672.1 1387.2 677 1390.6 678.1C1393.7 679.1 1397.8 680 1400.3 679.1C1402.4 678.3 1404.1 673.9 1405.2 674.2C1406.6 674.6 1404.8 682.4 1407.1 683.9C1410.6 686.2 1422.2 680.5 1429.5 679.1C1436.5 677.7 1442.5 677 1450 675.4C1459.1 673.4 1472.2 671.6 1480.3 667.9C1486.5 665.1 1491 660.3 1495.4 657.3C1498.8 655 1502 651.1 1504.5 651.2C1506.3 651.3 1507.2 655 1509 655C1511.8 655.1 1515.5 647.7 1519.6 646.7C1524 645.7 1529.7 649.9 1534.7 649.7C1539.8 649.5 1545.6 647.2 1549.9 645.2C1553.5 643.5 1556.1 641.5 1559 639.1C1562.1 636.5 1565.4 630.3 1568 630C1569.7 629.8 1570.9 633.2 1572.6 633C1575.6 632.6 1579.5 625 1583.2 621C1587 616.9 1592.1 608.5 1595.3 608.8C1597.8 609.1 1598.3 616.8 1601.3 617.9C1604.9 619.2 1612.6 616.6 1616.5 613.4C1620.7 609.9 1623.1 596.4 1624.9 596.7C1626.3 596.9 1624.1 606.3 1627.1 608.8C1632.2 613 1650.5 608.3 1661.9 608.2C1672.9 608.1 1691.2 610.5 1694.5 608C1695.5 607.2 1695.1 605 1695.4 605C1695.9 605.1 1696 616.8 1696.3 616.8C1696.5 616.8 1695.6 611.3 1697 610C1698.8 608.3 1704.1 610.7 1708.1 609.6C1713.6 608.1 1720.4 602.2 1726.2 599.6C1731.2 597.4 1736.7 594.4 1740.7 594.6C1743.5 594.7 1745.1 596 1747.9 597.8C1752.8 601 1759.8 611.7 1766 614.1C1770.8 615.9 1775 614.6 1780.5 614.1C1787.8 613.5 1798.5 609.8 1805.8 609.6C1811.3 609.5 1815.5 610.2 1820.3 611.4C1825.2 612.6 1829.2 615.1 1834.8 616.8C1842.4 619.1 1853.7 621.5 1861.9 623.1C1868.5 624.4 1874.2 624.4 1880 625.9C1885.7 627.4 1893.1 629.1 1896.3 632.2C1898.6 634.4 1897.9 638.8 1899.9 640.3C1901.7 641.6 1904.3 641.4 1907.2 641.2C1911.9 640.8 1919.9 637.8 1925.3 635.8C1929.9 634.1 1935.5 629.1 1937.9 630.4C1940.2 631.7 1937.4 639.9 1939.7 643C1942.1 646.3 1947.2 647.8 1952.4 649.4C1959.6 651.6 1969.8 652.3 1979.5 653C1990.7 653.8 2002.5 653.5 2015.7 653.5C2031.5 653.5 2050.6 652.9 2068 652.6" stroke="#ffa500" stroke-width="5.6" fill="none" stroke-linejoin="round" stroke-linecap="butt" clip-path="url(#cr)"/>
<path d="M1239 674.3C1242.9 672.3 1246.5 670.3 1250.6 668.4C1254.9 666.4 1260.2 662 1264.2 662.5C1267.9 663 1270.4 668.2 1273.9 670.3C1277.5 672.4 1281.2 674.2 1285.6 675.2C1290.8 676.4 1297.1 676.5 1303.1 676.2C1309.4 675.9 1316.3 675.6 1322.5 673.2C1329.3 670.6 1335.6 665.2 1342 660.6C1348.6 655.8 1356.1 650.3 1361.4 645C1365.8 640.6 1369.7 630.8 1372.1 631.4C1374.8 632.1 1373.2 651.9 1376 652.8C1378.1 653.5 1381.7 644.4 1384.8 644.1C1387.9 643.8 1391.3 649.7 1394.5 650.9C1397.1 651.9 1400.2 652.8 1402.3 651.8C1404.6 650.7 1406.4 643.8 1407.7 644.1C1409.2 644.4 1407.4 655 1410.1 656.7C1413.5 658.8 1422.9 652.6 1429.5 650.9C1436.2 649.2 1442.5 648.4 1450 646.7C1459.1 644.6 1472.1 642.5 1480.3 639.1C1486.4 636.6 1490.8 633.8 1495.4 630C1500.4 625.9 1505.4 615.9 1509 614.9C1510.8 614.4 1511.8 616.7 1513.6 616.4C1516.8 615.8 1521.4 607.5 1525.7 606.7C1529.5 606 1533.5 610.4 1537.8 610.4C1542.6 610.4 1548.4 608.3 1552.9 605.8C1557.5 603.3 1561.5 598.9 1565 595.2C1568.3 591.8 1571 584.6 1573.5 584.6C1575.4 584.6 1576.7 590.9 1578.6 590.7C1581.7 590.4 1585.6 578 1589.2 572.5C1592.5 567.5 1596.6 558.7 1599.2 558.9C1601.4 559.1 1601.5 567.7 1604.4 569.5C1607.3 571.3 1613.2 571 1616.5 569.5C1619.7 568 1622.4 564 1624 560.4C1625.8 556.5 1625.4 546.8 1626.2 546.8C1627.1 546.8 1625.7 560.5 1629.2 563.4C1633 566.6 1647 561.8 1649.8 563.4C1650.9 564 1650.1 565.2 1651.3 565.9C1655.5 568.3 1679 566.7 1690 566.5C1698.3 566.3 1704.8 567.2 1711.7 565.2C1718.7 563.1 1725.3 555.6 1731.6 554C1736.6 552.8 1740.9 553.7 1746.1 554.4C1752.2 555.2 1759.4 558.8 1766 558.9C1772.6 559 1779.1 556.2 1785.9 555.3C1793 554.4 1800 554 1807.6 553.5C1816.2 552.9 1829.4 550.6 1834.8 552.2C1837.5 553 1838.3 554.7 1840.2 556.2C1842.4 557.9 1844 561 1847.4 562C1852.8 563.6 1862.9 560 1871 559.4C1879.7 558.8 1889.1 558.3 1898.1 558.4C1907.2 558.5 1915.6 559.3 1925.3 560.2C1936.5 561.2 1949.3 563.3 1961.4 564.3C1973.4 565.3 1983.5 565.8 1997.6 566.1C2017.2 566.5 2044.5 565.5 2068 565.2" stroke="#800080" stroke-width="5.6" fill="none" stroke-linejoin="round" stroke-linecap="butt" clip-path="url(#cr)"/>
<path d="M1239 633.6C1244.2 629.3 1249.5 624.8 1254.5 620.7C1259.2 616.9 1264.6 609.8 1268.1 610C1270.5 610.2 1271.8 613.8 1273.9 615.9C1276.3 618.3 1278.6 621.7 1281.7 623.6C1285 625.6 1289.2 626.8 1293.4 627.5C1298.1 628.3 1303.5 628.2 1308.9 627.5C1315.1 626.8 1322.6 625.6 1328.4 622.7C1334.2 619.8 1338.8 614.3 1343.9 610C1349.1 605.6 1355 601.6 1359.5 596.4C1364.1 591.2 1368.1 585.2 1371.2 578.9C1374.3 572.6 1376.5 558.3 1378 558.5C1379.6 558.7 1377.4 584 1379.9 584.7C1381.8 585.3 1385.6 573.2 1388.7 573.1C1391.8 573 1395.2 581.6 1398.4 584.7C1401 587.2 1404.1 591.1 1406.2 590.6C1408.3 590.1 1409.9 581.6 1411 581.8C1412.4 582.1 1410.7 596.2 1413 597.4C1414.8 598.3 1418.2 594 1421.7 592.5C1426.4 590.4 1433.5 588.6 1439.2 586.7C1444.6 584.9 1449.5 583 1455 581.2C1461.1 579.2 1467.8 578 1474.2 575.5C1481.2 572.7 1490.2 569.6 1495.4 565C1499.7 561.2 1501.9 556.2 1504.5 551.3C1507.2 546.2 1509.8 534.5 1511.4 534.7C1512.8 534.8 1512.7 548.2 1514.2 548.3C1516.1 548.5 1519.6 533.5 1522.6 527.1C1525.3 521.5 1528.4 511.9 1531.1 512C1533.7 512.1 1534.9 525.7 1538.4 527.1C1541.4 528.3 1545.9 524.6 1549.9 522.6C1554.7 520.2 1560.9 517.4 1565 513.5C1568.9 509.8 1571.5 504.8 1574.1 499.9C1576.8 494.7 1579.2 483.1 1580.8 483.2C1582.3 483.3 1582.1 496.7 1583.8 496.9C1586.2 497.1 1591.8 479 1595.3 469.6C1598.9 459.8 1601.9 439.4 1605 439.3C1607.4 439.2 1608.5 454.7 1611.9 457.5C1614 459.3 1617 459.6 1619.5 459C1622.6 458.2 1626.3 455.3 1628.6 451.5C1632 445.8 1632.4 425.6 1633.7 425.7C1634.9 425.8 1632.5 449.1 1636.1 451.5C1638.4 453.1 1642.6 449.6 1646.7 448.4C1652.6 446.7 1660.7 443.8 1667.9 442.4C1675.1 440.9 1683.4 440.9 1690 439.7C1695.5 438.7 1700.2 437.3 1704.9 435.9C1709.3 434.6 1713.8 434.3 1717.4 431.7C1721.4 428.8 1723.9 423.3 1727.3 418.5C1731.3 412.9 1735.7 404.5 1739.8 399.9C1742.7 396.6 1745.8 394.4 1748.5 392.4C1750.5 390.9 1752.9 388.1 1754.2 388.7C1756.4 389.8 1754.5 401.5 1755.9 407.3C1757.2 412.7 1759.3 417.8 1762.1 422.2C1764.8 426.5 1767.9 430.5 1772.1 433.4C1776.8 436.6 1783.9 437.5 1789.5 439.7C1794.7 441.7 1799.5 443.5 1804.4 445.9C1809.5 448.4 1814.1 451.3 1819.4 454.6C1825.6 458.5 1833.3 464.8 1839.3 468.3C1843.8 471 1848.2 472 1851.7 474.5C1854.7 476.7 1856.5 480.4 1859.2 481.9C1861.4 483.1 1863.6 483.5 1866 483.5C1868.8 483.6 1871.7 482 1875.1 481.7C1879.5 481.3 1885.3 482.4 1890.3 482C1895.4 481.6 1899.5 479.9 1905.4 479.3C1913.7 478.5 1924.5 479.5 1935.6 479C1949.2 478.4 1965.9 476.2 1981 475.2C1996.1 474.2 2011.6 473.7 2026.4 473C2040.6 472.3 2054.1 471.7 2068 471" stroke="#0000ff" stroke-width="5.6" fill="none" stroke-linejoin="round" stroke-linecap="butt" clip-path="url(#cr)"/>
<path d="M1239 536.2C1243.7 531.5 1248.9 527.3 1253.2 522.1C1257.7 516.6 1261.7 510.2 1265.3 504C1268.7 498.1 1271.7 491.9 1274.3 485.8C1276.9 479.8 1278.6 467.9 1281 467.7C1282.8 467.5 1284.4 473.5 1286.5 476.7C1289.1 480.5 1291.6 485.8 1295.5 488.8C1299.6 491.9 1305.6 494.2 1310.7 494.9C1315.7 495.6 1320.8 494.5 1325.8 493.4C1330.9 492.3 1335.4 490 1340.9 488.2C1347.4 486 1356.8 484.8 1362.1 481.3C1366.3 478.5 1368 475.1 1371.2 470.7C1375.8 464.4 1381.7 454.7 1386.3 446.5C1390.8 438.5 1394.9 430.7 1398.4 422.3C1402 413.6 1405.2 403.9 1407.5 395C1409.6 386.8 1410.8 379.8 1412.1 370.8C1413.7 359.6 1415 333 1416 333C1417 333 1416.7 370.7 1418.1 370.8C1418.9 370.9 1420 365 1421 360C1423.1 349.3 1425.2 308.8 1427.2 308.8C1428.8 308.8 1430.2 328.2 1431.7 340.5C1433.8 357.4 1434.1 391.6 1437.8 401.1C1439.1 404.4 1441.3 404.9 1442.3 407.1C1443.3 409.4 1443.1 414.6 1443.8 414.7C1444.6 414.8 1445.2 408.6 1446.9 407.1C1448.4 405.8 1450.7 406.4 1452.9 405.6C1455.7 404.6 1458.8 402.8 1462 401.1C1465.8 399.1 1470.9 396.7 1474.1 394.4C1476.5 392.6 1477.5 391.2 1480 388.9C1484.2 385 1491.6 378.8 1497.3 373.4C1503.1 367.9 1510 362.5 1514.6 356.1C1519.1 349.8 1522.4 342.4 1525 335.3C1527.5 328.5 1528.9 321.6 1530.2 314.5C1531.5 307.2 1531.8 292 1532.9 292C1534.1 292 1535.4 318 1537.1 318C1539 318 1541.8 293.9 1544 283.4C1545.8 274.6 1546.6 259.5 1549.2 259.2C1551.5 258.9 1553.9 275 1557.9 276.5C1561.2 277.7 1566.1 274 1570 271.3C1574.8 268.1 1579.5 262.9 1583.8 257.4C1588.8 251 1593.9 241.6 1597.6 234.9C1600.4 229.8 1602.6 226.8 1604.6 221.1C1607.4 213 1609.4 199.9 1610.8 190C1612.1 181 1610.4 167.6 1613.2 164C1614.5 162.4 1616.9 163.9 1618.4 162.3C1621.9 158.6 1621.5 138.9 1625.3 134.6C1627.2 132.4 1630.2 131 1632.2 131.8C1635.3 133.1 1637.5 140.9 1639.2 148.4C1642.4 162.1 1637.4 202.1 1642.6 209C1644.4 211.4 1646.7 211.4 1649.6 211.4C1654.1 211.4 1661.5 207.4 1666.9 205.5C1671.8 203.8 1677.1 202.6 1680.7 200.3C1683.6 198.4 1685.7 196.3 1687.6 193.4C1689.9 189.8 1691.3 185.2 1692.8 179.6C1695 171.4 1696 158.1 1698 148.4C1699.8 139.8 1702.2 124.2 1703.9 124.2C1705.6 124.2 1706.5 140.4 1708.4 148.4C1710.3 156.5 1712.8 165.3 1715.3 172.7C1717.4 179 1720 183.7 1722.2 190C1724.7 197.3 1726.3 213.9 1729.1 214.2C1731.2 214.5 1734.3 201.6 1736.1 202.1C1742.4 203.8 1736.8 325.2 1737 370C1737.1 399.8 1736.5 424.4 1737.3 444.6C1737.8 458.4 1737.9 469 1739.8 479.5C1741.5 488.6 1743.7 497.7 1747.2 504.3C1749.9 509.5 1753.2 513.9 1757.2 516.8C1760.8 519.5 1766.1 521.4 1769.6 521.7C1772 521.9 1774.2 519.3 1775.8 520.5C1779.4 523.2 1775.4 550.4 1778.3 554.1C1779.3 555.4 1780.3 555.4 1782 555.3C1786 555.1 1795.3 549.7 1801.9 546.6C1808.6 543.5 1815.4 539.9 1821.8 536.7C1827.8 533.7 1834.2 528.9 1839.3 528C1843 527.4 1845.6 529.6 1849.2 529.2C1853.7 528.7 1859.5 525.6 1864.1 524.2C1868 523 1871.1 521.5 1875.1 521.1C1879.7 520.6 1884.7 522.2 1890.3 522.1C1897.1 522 1904.5 520.9 1913 519.8C1924 518.3 1937.6 515.7 1950.8 513.5C1965.2 511.1 1979.3 508 1996.2 506.2C2017.3 504 2044.1 503.7 2068 502.5" stroke="#00bfbf" stroke-width="5.6" fill="none" stroke-linejoin="round" stroke-linecap="butt" clip-path="url(#cr)"/>
<rect x="109.6" y="14.5" width="882.4" height="822.5" fill="none" stroke="#000" stroke-width="1.1"/>
<rect x="1239.2" y="10.5" width="828.5" height="826.5" fill="none" stroke="#000" stroke-width="1.1"/>
<g font-family="'DejaVu Sans', 'Liberation Sans', sans-serif" font-size="31.0" fill="#000">
<text x="109.6" y="876" text-anchor="middle">0</text>
<text x="207.6" y="876" text-anchor="middle">−1</text>
<text x="305.7" y="876" text-anchor="middle">−2</text>
<text x="403.7" y="876" text-anchor="middle">−3</text>
<text x="501.8" y="876" text-anchor="middle">−4</text>
<text x="599.8" y="876" text-anchor="middle">−5</text>
<text x="697.8" y="876" text-anchor="middle">−6</text>
<text x="795.9" y="876" text-anchor="middle">−7</text>
<text x="893.9" y="876" text-anchor="middle">−8</text>
<text x="992" y="876" text-anchor="middle">−9</text>
<text x="94" y="716.7" text-anchor="end">0.2</text>
<text x="94" y="552.1" text-anchor="end">0.3</text>
<text x="94" y="387.5" text-anchor="end">0.4</text>
<text x="94" y="222.9" text-anchor="end">0.5</text>
<text x="94" y="58.3" text-anchor="end">0.6</text>
<text x="1259.4" y="876" text-anchor="middle">2</text>
<text x="1360.4" y="876" text-anchor="middle">1</text>
<text x="1461.5" y="876" text-anchor="middle">0</text>
<text x="1562.5" y="876" text-anchor="middle">−1</text>
<text x="1663.6" y="876" text-anchor="middle">−2</text>
<text x="1764.6" y="876" text-anchor="middle">−3</text>
<text x="1865.6" y="876" text-anchor="middle">−4</text>
<text x="1966.7" y="876" text-anchor="middle">−5</text>
<text x="2067.7" y="876" text-anchor="middle">−6</text>
<text x="1224" y="838.6" text-anchor="end">0.02</text>
<text x="1224" y="742.5" text-anchor="end">0.04</text>
<text x="1224" y="646.4" text-anchor="end">0.06</text>
<text x="1224" y="550.3" text-anchor="end">0.08</text>
<text x="1224" y="454.2" text-anchor="end">0.10</text>
<text x="1224" y="358.1" text-anchor="end">0.12</text>
<text x="1224" y="261.9" text-anchor="end">0.14</text>
<text x="1224" y="165.8" text-anchor="end">0.16</text>
<text x="1224" y="69.7" text-anchor="end">0.18</text>
<text x="550.7" y="911" text-anchor="middle">log<tspan font-size="21.4" dy="5">10</tspan><tspan dy="-5">(τ</tspan><tspan font-size="21.4" dy="5">cc</tspan><tspan dy="-5"> − τ)/yr</tspan></text>
<text x="1653" y="911" text-anchor="middle">log<tspan font-size="21.4" dy="5">10</tspan><tspan dy="-5">(τ</tspan><tspan font-size="21.4" dy="5">cc</tspan><tspan dy="-5"> − τ)/yr</tspan></text>
<text transform="translate(32.5 427) rotate(-90)" text-anchor="middle"><tspan font-style="italic">ξ</tspan><tspan font-size="21.4" dy="5">1.8</tspan></text>
<text transform="translate(1142.5 424.5) rotate(-90)" text-anchor="middle"><tspan font-style="italic">ξ</tspan><tspan font-size="21.4" dy="5">2.5</tspan></text>
</g>
<g font-family="'DejaVu Sans', 'Liberation Sans', sans-serif" font-size="27.8" fill="#000">
<path d="M132.3 50.7H193" stroke="#00ff7f" stroke-width="5.6"/>
<text x="213" y="59.9"><tspan font-style="italic">f</tspan> = 0.020</text>
<path d="M132.3 91.4H193" stroke="#ff0000" stroke-width="5.6"/>
<text x="213" y="100.6"><tspan font-style="italic">f</tspan> = 0.025</text>
<path d="M132.3 132.2H193" stroke="#008000" stroke-width="5.6"/>
<text x="213" y="141.4"><tspan font-style="italic">f</tspan> = 0.030</text>
<path d="M132.3 173H193" stroke="#ffa500" stroke-width="5.6"/>
<text x="213" y="182.2"><tspan font-style="italic">f</tspan> = 0.031</text>
<path d="M396.7 50.7H457.3" stroke="#800080" stroke-width="5.6"/>
<text x="477.8" y="59.9"><tspan font-style="italic">f</tspan> = 0.032</text>
<path d="M396.7 91.4H457.3" stroke="#0000ff" stroke-width="5.6"/>
<text x="477.8" y="100.6"><tspan font-style="italic">f</tspan> = 0.035</text>
<path d="M396.7 132.2H457.3" stroke="#00bfbf" stroke-width="5.6"/>
<text x="477.8" y="141.4"><tspan font-style="italic">f</tspan> = 0.050</text>
</g>
<g font-family="'DejaVu Sans', 'Liberation Sans', sans-serif" font-size="27.8" fill="#000">
<path d="M1301.9 46.8H1362.9" stroke="#00ff7f" stroke-width="5.6"/>
<text x="1383.3" y="56"><tspan font-style="italic">f</tspan> = 0.020</text>
<path d="M1301.9 87.7H1362.9" stroke="#ff0000" stroke-width="5.6"/>
<text x="1383.3" y="96.9"><tspan font-style="italic">f</tspan> = 0.025</text>
<path d="M1301.9 128.6H1362.9" stroke="#008000" stroke-width="5.6"/>
<text x="1383.3" y="137.8"><tspan font-style="italic">f</tspan> = 0.030</text>
<path d="M1566.3 46.8H1627.6" stroke="#ffa500" stroke-width="5.6"/>
<text x="1647.8" y="56"><tspan font-style="italic">f</tspan> = 0.031</text>
<path d="M1566.3 87.7H1627.6" stroke="#800080" stroke-width="5.6"/>
<text x="1647.8" y="96.9"><tspan font-style="italic">f</tspan> = 0.032</text>
<path d="M1831 46.8H1892" stroke="#0000ff" stroke-width="5.6"/>
<text x="1912" y="56"><tspan font-style="italic">f</tspan> = 0.035</text>
<path d="M1831 87.7H1892" stroke="#00bfbf" stroke-width="5.6"/>
<text x="1912" y="96.9"><tspan font-style="italic">f</tspan> = 0.050</text>
</g>
</svg>
</body></html>
